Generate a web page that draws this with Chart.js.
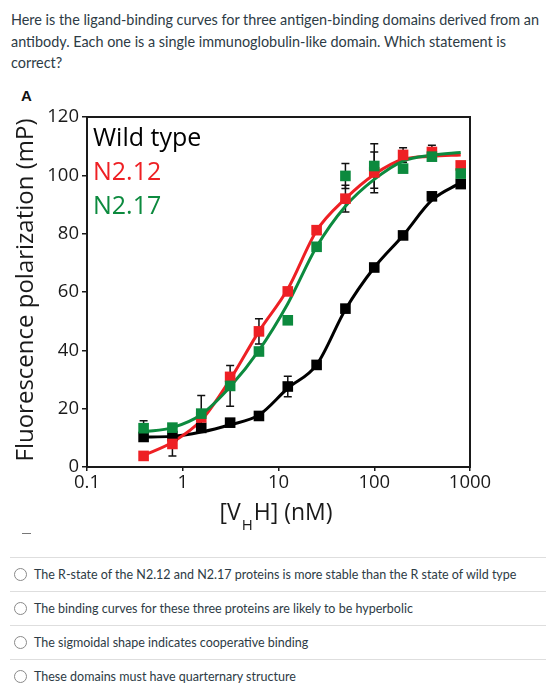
<!DOCTYPE html>
<html>
<head>
<meta charset="utf-8">
<title>Ligand binding curves</title>
<script src="https://cdn.jsdelivr.net/npm/chart.js@4.4.1/dist/chart.umd.min.js"></script>
<style>
  body { margin: 0; width: 546px; height: 698px; background: #fff; position: relative; overflow: hidden;
         font-family: Lato, "Open Sans", sans-serif; color: #2d3b45; }
  .question { position: absolute; left: 11px; top: 9px; width: 535px; font-size: 14.4px; line-height: 21.5px; }
  .panel { position: absolute; left: 21px; top: 87px; font: bold 15px "Liberation Sans", Arial, sans-serif; color: #111; }
  #wrap { position: absolute; left: 0; top: 84px; width: 546px; height: 460px; }
  .dash { position: absolute; left: 22px; top: 533px; width: 9px; height: 1px; background: #777; }
  .options { position: absolute; left: 10px; top: 557px; width: 536px; }
  .opt { border-top: 1px solid #dedede; height: 33px; display: flex; align-items: center; font-size: 12.5px; }
  .opt .radio { width: 11px; height: 11px; border: 1px solid #8a8a8a; border-radius: 50%; margin: 0 7px 0 4px; flex: none; }
</style>
</head>
<body>
<div class="question">Here is the ligand-binding curves for three antigen-binding domains derived from an antibody. Each one is a single immunoglobulin-like domain. Which statement is correct?</div>
<div class="panel">A</div>
<div id="wrap"><canvas id="myChart"></canvas></div>
<div class="dash"></div>
<div class="options">
  <div class="opt"><span class="radio"></span>The R-state of the N2.12 and N2.17 proteins is more stable than the R state of wild type</div>
  <div class="opt"><span class="radio"></span>The binding curves for these three proteins are likely to be hyperbolic</div>
  <div class="opt"><span class="radio"></span>The sigmoidal shape indicates cooperative binding</div>
  <div class="opt"><span class="radio"></span>These domains must have quarternary structure</div>
</div>

<script>
// [VH] concentrations (nM), two-fold dilutions
const concentrations = [0.39, 0.78, 1.56, 3.125, 6.25, 12.5, 25, 50, 100, 200, 400, 800];

// measured points (mP)
const wildType = [10.3, 10.6, 13.4, 15.2, 17.5, 27.6, 35, 54.3, 68.4, 79.4, 92.8, 97];
const n212 = [3.8, 7.9, 17, 30.9, 46.5, 60.2, 81.2, 92, 101, 107, 108, 103.4];
const n217 = [13.3, 13.5, 18.3, 27.8, 39.6, 50.3, 75.5, 99.8, 103.2, 102.3, 106.4, 100.6];

// error bar half widths (0 = none drawn)
const wildTypeErr = [0, 0, 0, 0, 0, 3.5, 0, 0, 0, 0, 0, 0];
const n212Err = [0, 4.1, 0, 0, 4.3, 0, 0, 4.6, 7, 2.5, 2.3, 0];
const n217Err = [2.6, 0, 6.2, 7, 0, 0, 0, 4.3, 7.6, 0, 0, 0];

// fitted curves
const wildTypeFit = [10.3, 10.5, 12, 14.5, 17.8, 27, 35, 54, 68.4, 79.4, 91.5, 97.5];
const n212Fit = [4, 8.5, 16, 30, 46.5, 61, 81, 92, 100.3, 105.5, 106.5, 107];
const n217Fit = [12, 13.5, 18, 27.5, 40, 56, 75.5, 89.4, 98.6, 104.9, 106.9, 107.8];

// axis ticks
const xTicks = [0.1, 1, 10, 100, 1000];
const xTickLabels = ['0.1', '1', '10', '100', '1000'];
const yTicks = [0, 20, 40, 60, 80, 100, 120];

const BLACK = '#000000';
const RED = '#ee2024';
const GREEN = '#0c8a3e';
const FONT = '"Open Sans", "DejaVu Sans", sans-serif';

function pts(values) {
    return values.map(function(v, i) { return {x: concentrations[i], y: v}; });
}

function curve(label, values, color, order) {
    return {
        label: label, data: pts(values), showLine: true, borderColor: color, borderWidth: 3,
        pointRadius: 0, cubicInterpolationMode: 'monotone', order: order
    };
}

function markers(label, values, color, order) {
    return {
        label: label, data: pts(values), showLine: false, pointStyle: 'rect',
        pointRadius: 7.5, backgroundColor: color, borderColor: color, borderWidth: 0, order: order
    };
}

const errorSets = [
    {values: wildType, err: wildTypeErr},
    {values: n212, err: n212Err},
    {values: n217, err: n217Err}
];

// error bars under the squares
const errorBars = {
    id: 'errorBars',
    beforeDatasetsDraw: (chart) => {
        const {ctx, scales: {x, y}} = chart;
        ctx.save();
        ctx.strokeStyle = '#111';
        ctx.lineWidth = 1.5;
        errorSets.forEach(function(s) {
            s.err.forEach(function(e, i) {
                if (!e) return;
                const px = x.getPixelForValue(concentrations[i]);
                const top = y.getPixelForValue(s.values[i] + e);
                const bot = y.getPixelForValue(s.values[i] - e);
                ctx.beginPath();
                ctx.moveTo(px, top); ctx.lineTo(px, bot);
                ctx.moveTo(px - 4, top); ctx.lineTo(px + 4, top);
                ctx.moveTo(px - 4, bot); ctx.lineTo(px + 4, bot);
                ctx.stroke();
            });
        });
        ctx.restore();
    }
};

// frame, in-plot legend and axis titles
const decorations = {
    id: 'decorations',
    afterDraw: (chart) => {
        const {ctx, chartArea: a} = chart;
        ctx.save();
        ctx.strokeStyle = '#1a1a1a';
        ctx.lineWidth = 2;
        ctx.strokeRect(a.left, a.top, a.right - a.left, a.bottom - a.top);

        ctx.font = '25px ' + FONT;
        ctx.textAlign = 'left';
        ctx.textBaseline = 'alphabetic';
        const names = [['Wild type', BLACK], ['N2.12', RED], ['N2.17', GREEN]];
        names.forEach(function(n, i) {
            ctx.fillStyle = n[1];
            ctx.fillText(n[0], a.left + 6, 62 + i * 34);
        });

        // y title, sized to span ~355px like the figure
        const yTitle = 'Fluorescence polarization (mP)';
        ctx.fillStyle = '#1a1a1a';
        ctx.font = '24px ' + FONT;
        const size = Math.min(24, 24 * 352 / ctx.measureText(yTitle).width);
        ctx.save();
        ctx.translate(33, 206);
        ctx.rotate(-Math.PI / 2);
        ctx.textAlign = 'center';
        ctx.font = size.toFixed(1) + 'px ' + FONT;
        ctx.fillText(yTitle, 0, 0);
        ctx.restore();

        // x title with subscript H
        ctx.font = '23px ' + FONT;
        const p1 = '[V', p3 = 'H] (nM)';
        const w1 = ctx.measureText(p1).width;
        const w3 = ctx.measureText(p3).width;
        ctx.font = '15px ' + FONT;
        const w2 = ctx.measureText('H').width;
        let sx = 275 - (w1 + w2 + w3) / 2;
        ctx.font = '23px ' + FONT;
        ctx.fillText(p1, sx, 436);
        ctx.font = '15px ' + FONT;
        ctx.fillText('H', sx + w1 + 1, 446);
        ctx.font = '23px ' + FONT;
        ctx.fillText(p3, sx + w1 + w2 + 2, 436);
        ctx.restore();
    }
};

const config = {
    type: 'scatter',
    data: {
        datasets: [
            markers('N2.17', n217, GREEN, 1),
            markers('N2.12', n212, RED, 2),
            markers('Wild type', wildType, BLACK, 3),
            curve('N2.17 fit', n217Fit, GREEN, 4),
            curve('N2.12 fit', n212Fit, RED, 5),
            curve('Wild type fit', wildTypeFit, BLACK, 6)
        ]
    },
    options: {
        responsive: true,
        maintainAspectRatio: false,
        animation: false,
        layout: { padding: { top: 33, right: 76, bottom: 0, left: 0 } },
        plugins: { legend: { display: false }, tooltip: { enabled: false } },
        scales: {
            x: {
                type: 'logarithmic',
                min: 0.1,
                max: 1000,
                afterBuildTicks: (scale) => { scale.ticks = xTicks.map(v => ({value: v})); },
                afterFit: (scale) => { scale.height = 77; },
                ticks: {
                    autoSkip: false, maxRotation: 0, padding: 1,
                    color: '#1a1a1a', font: { family: FONT, size: 18.5 },
                    callback: (v) => xTickLabels[xTicks.indexOf(v)]
                },
                grid: { drawOnChartArea: false, tickLength: 4, color: '#1a1a1a', lineWidth: 1.5 },
                border: { color: '#1a1a1a', width: 2 }
            },
            y: {
                min: 0,
                max: 120,
                afterBuildTicks: (scale) => { scale.ticks = yTicks.map(v => ({value: v})); },
                afterFit: (scale) => { scale.width = 87; },
                ticks: { padding: 3, color: '#1a1a1a', font: { family: FONT, size: 18.5 } },
                grid: { drawOnChartArea: false, tickLength: 5, color: '#1a1a1a', lineWidth: 1.5 },
                border: { color: '#1a1a1a', width: 2 }
            }
        }
    },
    plugins: [errorBars, decorations]
};

const myChart = new Chart(document.getElementById('myChart'), config);
</script>
</body>
</html>
